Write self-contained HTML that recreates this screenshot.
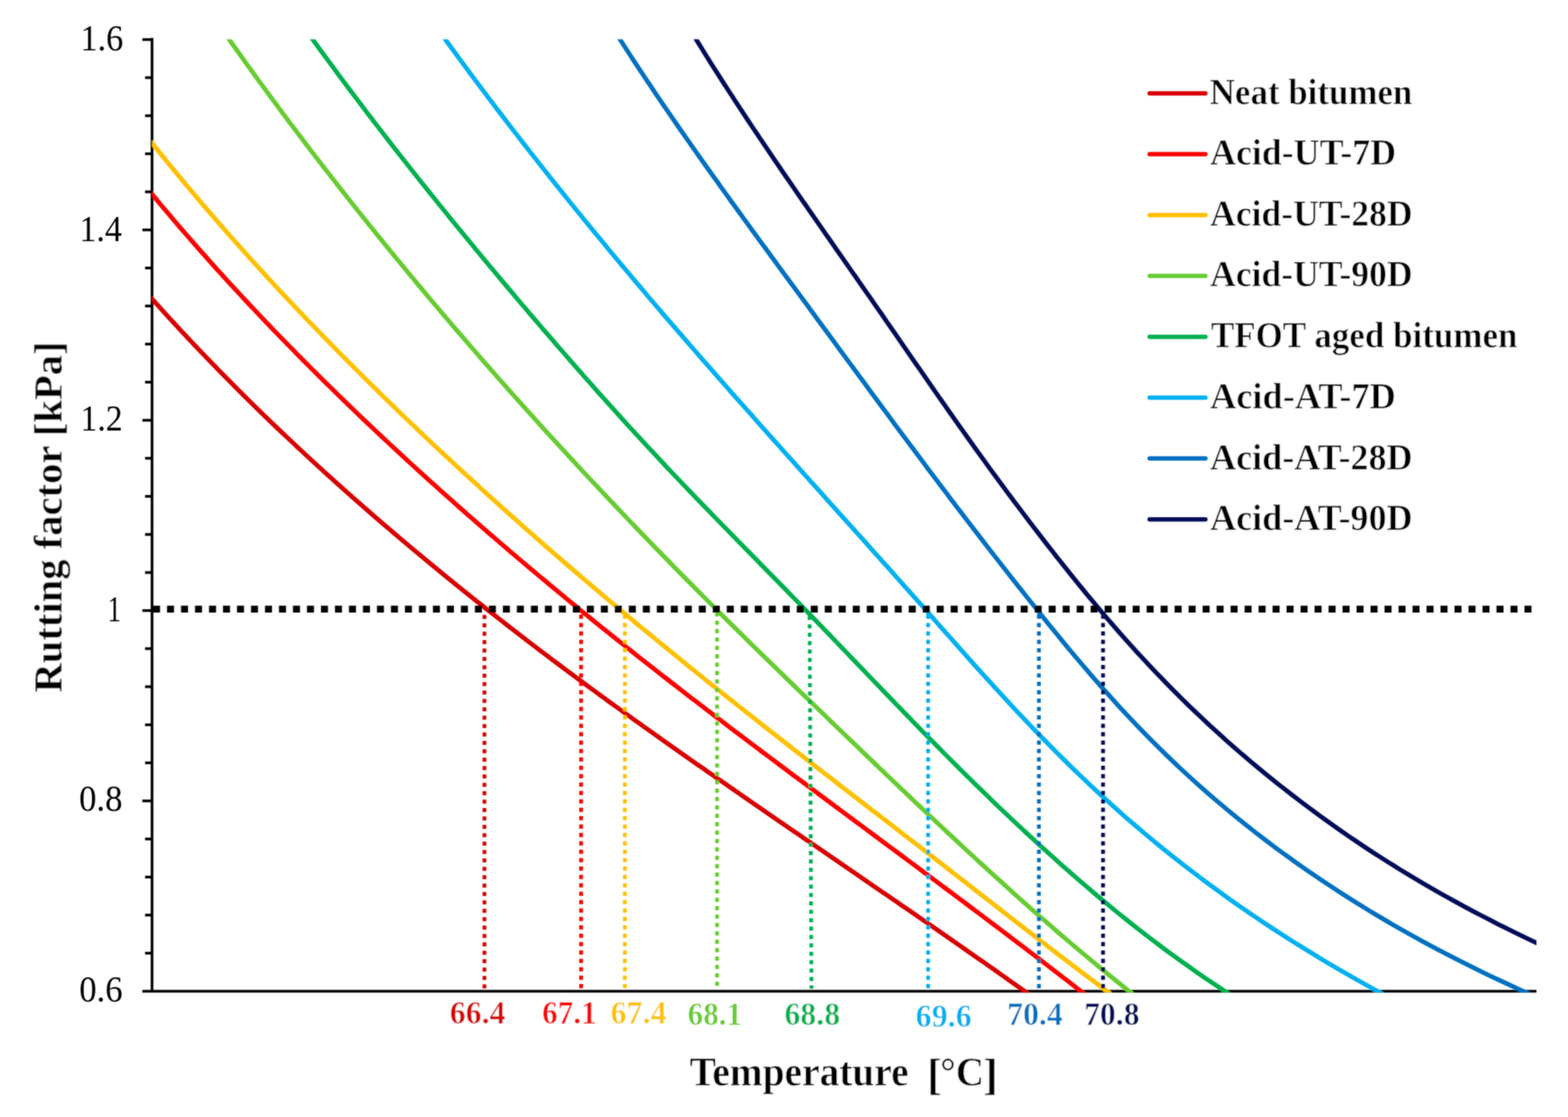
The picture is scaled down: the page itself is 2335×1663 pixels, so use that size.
<!DOCTYPE html><html><head><meta charset="utf-8"><style>html,body{margin:0;padding:0;background:#fff;}svg{display:block;}text{font-family:"Liberation Serif","Times New Roman",serif;}text[font-weight="bold"]{stroke:#fff;stroke-width:0.6px;}</style></head><body>
<svg width="2335" height="1663" viewBox="0 0 2335 1663">
<rect width="2335" height="1663" fill="#fff"/>
<defs><clipPath id="pc"><rect x="226.3" y="58.4" width="2061.7" height="1419.3999999999999"/></clipPath><filter id="soft" x="0" y="0" width="2335" height="1663" filterUnits="userSpaceOnUse"><feConvolveMatrix order="3" kernelMatrix="1 2 1 2 4 2 1 2 1" divisor="16" edgeMode="duplicate"/></filter></defs>
<g filter="url(#soft)">
<g stroke="#000" stroke-width="4" fill="none">
<line x1="226.4" y1="56.4" x2="226.4" y2="1475.8"/>
<line x1="212" y1="1475.8" x2="2288.0" y2="1475.8"/>
<line x1="212" y1="58.9" x2="226.4" y2="58.9"/>
<line x1="216" y1="115.6" x2="226.4" y2="115.6"/>
<line x1="216" y1="172.3" x2="226.4" y2="172.3"/>
<line x1="216" y1="228.9" x2="226.4" y2="228.9"/>
<line x1="216" y1="285.6" x2="226.4" y2="285.6"/>
<line x1="212" y1="342.3" x2="226.4" y2="342.3"/>
<line x1="216" y1="399.0" x2="226.4" y2="399.0"/>
<line x1="216" y1="455.6" x2="226.4" y2="455.6"/>
<line x1="216" y1="512.3" x2="226.4" y2="512.3"/>
<line x1="216" y1="569.0" x2="226.4" y2="569.0"/>
<line x1="212" y1="625.7" x2="226.4" y2="625.7"/>
<line x1="216" y1="682.3" x2="226.4" y2="682.3"/>
<line x1="216" y1="739.0" x2="226.4" y2="739.0"/>
<line x1="216" y1="795.7" x2="226.4" y2="795.7"/>
<line x1="216" y1="852.4" x2="226.4" y2="852.4"/>
<line x1="212" y1="909.0" x2="226.4" y2="909.0"/>
<line x1="216" y1="965.7" x2="226.4" y2="965.7"/>
<line x1="216" y1="1022.4" x2="226.4" y2="1022.4"/>
<line x1="216" y1="1079.1" x2="226.4" y2="1079.1"/>
<line x1="216" y1="1135.7" x2="226.4" y2="1135.7"/>
<line x1="212" y1="1192.4" x2="226.4" y2="1192.4"/>
<line x1="216" y1="1249.1" x2="226.4" y2="1249.1"/>
<line x1="216" y1="1305.8" x2="226.4" y2="1305.8"/>
<line x1="216" y1="1362.4" x2="226.4" y2="1362.4"/>
<line x1="216" y1="1419.1" x2="226.4" y2="1419.1"/>
</g>
<text x="183.6" y="74.9" font-size="54.8" text-anchor="end" fill="#000" textLength="63.9" lengthAdjust="spacingAndGlyphs">1.6</text>
<text x="181.5" y="359.2" font-size="54.8" text-anchor="end" fill="#000" textLength="63.3" lengthAdjust="spacingAndGlyphs">1.4</text>
<text x="182.6" y="641.1" font-size="54.8" text-anchor="end" fill="#000" textLength="62.8" lengthAdjust="spacingAndGlyphs">1.2</text>
<text x="180.3" y="924.9" font-size="54.8" text-anchor="end" fill="#000" textLength="20.0" lengthAdjust="spacingAndGlyphs">1</text>
<text x="182.4" y="1206.5" font-size="54.8" text-anchor="end" fill="#000" textLength="64.7" lengthAdjust="spacingAndGlyphs">0.8</text>
<text x="182.6" y="1490.5" font-size="54.8" text-anchor="end" fill="#000" textLength="64.6" lengthAdjust="spacingAndGlyphs">0.6</text>
<g clip-path="url(#pc)" fill="none" stroke-width="6.7" stroke-linejoin="round">
<path d="M224.3 442.5 L228.5 447.2 L232.7 452.0 L237.0 456.7 L241.3 461.4 L245.6 466.2 L249.9 470.9 L254.2 475.7 L258.6 480.4 L262.9 485.1 L267.3 489.9 L271.7 494.6 L276.1 499.3 L280.6 504.1 L285.0 508.8 L289.5 513.6 L294.0 518.3 L298.5 523.0 L303.1 527.8 L307.6 532.5 L312.2 537.2 L316.8 542.0 L321.4 546.7 L326.0 551.5 L330.6 556.2 L335.3 560.9 L340.0 565.7 L344.7 570.4 L349.4 575.1 L354.1 579.9 L358.9 584.6 L363.6 589.4 L368.4 594.1 L373.2 598.8 L378.0 603.6 L382.9 608.3 L387.7 613.0 L392.6 617.8 L397.5 622.5 L402.4 627.3 L407.3 632.0 L412.3 636.7 L417.3 641.5 L422.3 646.2 L427.3 650.9 L432.3 655.7 L437.3 660.4 L442.4 665.2 L447.5 669.9 L452.6 674.6 L457.7 679.4 L462.8 684.1 L467.9 688.8 L473.1 693.6 L478.3 698.3 L483.5 703.1 L488.7 707.8 L494.0 712.5 L499.2 717.3 L504.5 722.0 L509.8 726.7 L515.1 731.5 L520.5 736.2 L525.8 741.0 L531.2 745.7 L536.6 750.4 L542.0 755.2 L547.4 759.9 L552.8 764.6 L558.3 769.4 L563.8 774.1 L569.3 778.9 L574.8 783.6 L580.3 788.3 L585.9 793.1 L591.4 797.8 L597.0 802.5 L602.6 807.3 L608.3 812.0 L613.9 816.8 L619.6 821.5 L625.3 826.2 L631.0 831.0 L636.7 835.7 L642.4 840.4 L648.2 845.2 L653.9 849.9 L659.7 854.7 L665.5 859.4 L671.4 864.1 L677.2 868.9 L683.1 873.6 L689.0 878.3 L694.9 883.1 L700.8 887.8 L706.7 892.6 L712.7 897.3 L718.7 902.0 L724.6 906.8 L730.7 911.5 L736.7 916.2 L742.7 921.0 L748.8 925.7 L754.9 930.5 L761.0 935.2 L767.1 939.9 L773.3 944.7 L779.4 949.4 L785.6 954.1 L791.8 958.9 L798.0 963.6 L804.2 968.4 L810.5 973.1 L816.8 977.8 L823.0 982.6 L829.3 987.3 L835.7 992.0 L842.0 996.8 L848.4 1001.5 L854.8 1006.3 L861.2 1011.0 L867.6 1015.7 L874.0 1020.5 L880.5 1025.2 L886.9 1029.9 L893.4 1034.7 L899.9 1039.4 L906.4 1044.2 L913.0 1048.9 L919.5 1053.6 L926.1 1058.4 L932.6 1063.1 L939.2 1067.8 L945.8 1072.6 L952.5 1077.3 L959.1 1082.1 L965.7 1086.8 L972.4 1091.5 L979.1 1096.3 L985.7 1101.0 L992.4 1105.7 L999.1 1110.5 L1005.9 1115.2 L1012.6 1120.0 L1019.3 1124.7 L1026.1 1129.4 L1032.8 1134.2 L1039.6 1138.9 L1046.4 1143.6 L1053.2 1148.4 L1060.0 1153.1 L1066.8 1157.9 L1073.6 1162.6 L1080.4 1167.3 L1087.2 1172.1 L1094.0 1176.8 L1100.9 1181.5 L1107.7 1186.3 L1114.6 1191.0 L1121.4 1195.8 L1128.3 1200.5 L1135.2 1205.2 L1142.0 1210.0 L1148.9 1214.7 L1155.8 1219.4 L1162.7 1224.2 L1169.6 1228.9 L1176.5 1233.7 L1183.4 1238.4 L1190.3 1243.1 L1197.2 1247.9 L1204.1 1252.6 L1211.0 1257.3 L1217.9 1262.1 L1224.8 1266.8 L1231.7 1271.6 L1238.6 1276.3 L1245.5 1281.0 L1252.4 1285.8 L1259.3 1290.5 L1266.2 1295.2 L1273.1 1300.0 L1280.0 1304.7 L1286.9 1309.5 L1293.8 1314.2 L1300.7 1318.9 L1307.6 1323.7 L1314.5 1328.4 L1321.4 1333.1 L1328.3 1337.9 L1335.2 1342.6 L1342.1 1347.4 L1348.9 1352.1 L1355.8 1356.8 L1362.7 1361.6 L1369.5 1366.3 L1376.4 1371.0 L1383.2 1375.8 L1390.1 1380.5 L1396.9 1385.3 L1403.7 1390.0 L1410.5 1394.7 L1417.4 1399.5 L1424.2 1404.2 L1431.0 1408.9 L1437.7 1413.7 L1444.5 1418.4 L1451.3 1423.2 L1458.0 1427.9 L1464.8 1432.6 L1471.5 1437.4 L1478.3 1442.1 L1485.0 1446.8 L1491.7 1451.6 L1498.4 1456.3 L1505.0 1461.1 L1511.7 1465.8 L1518.4 1470.5 L1525.0 1475.3 L1531.7 1480.0" stroke="#D80000"/>
<path d="M224.6 287.0 L229.2 292.4 L233.7 297.9 L238.2 303.3 L242.8 308.8 L247.4 314.2 L252.0 319.7 L256.6 325.1 L261.3 330.6 L265.9 336.0 L270.6 341.5 L275.3 346.9 L280.1 352.4 L284.8 357.8 L289.6 363.3 L294.4 368.7 L299.2 374.2 L304.0 379.6 L308.9 385.1 L313.7 390.5 L318.6 395.9 L323.5 401.4 L328.5 406.8 L333.4 412.3 L338.4 417.7 L343.4 423.2 L348.4 428.6 L353.4 434.1 L358.5 439.5 L363.5 445.0 L368.6 450.4 L373.7 455.9 L378.9 461.3 L384.0 466.8 L389.2 472.2 L394.4 477.7 L399.6 483.1 L404.8 488.6 L410.0 494.0 L415.3 499.5 L420.6 504.9 L425.9 510.3 L431.2 515.8 L436.6 521.2 L441.9 526.7 L447.3 532.1 L452.7 537.6 L458.1 543.0 L463.6 548.5 L469.0 553.9 L474.5 559.4 L480.0 564.8 L485.5 570.3 L491.1 575.7 L496.6 581.2 L502.2 586.6 L507.8 592.1 L513.4 597.5 L519.0 603.0 L524.7 608.4 L530.3 613.8 L536.0 619.3 L541.7 624.7 L547.5 630.2 L553.2 635.6 L559.0 641.1 L564.8 646.5 L570.6 652.0 L576.4 657.4 L582.2 662.9 L588.1 668.3 L594.0 673.8 L599.9 679.2 L605.8 684.7 L611.7 690.1 L617.7 695.6 L623.6 701.0 L629.6 706.5 L635.6 711.9 L641.6 717.4 L647.7 722.8 L653.8 728.2 L659.8 733.7 L665.9 739.1 L672.1 744.6 L678.2 750.0 L684.3 755.5 L690.5 760.9 L696.7 766.4 L702.9 771.8 L709.1 777.3 L715.4 782.7 L721.7 788.2 L727.9 793.6 L734.2 799.1 L740.6 804.5 L746.9 810.0 L753.3 815.4 L759.6 820.9 L766.0 826.3 L772.4 831.7 L778.9 837.2 L785.3 842.6 L791.8 848.1 L798.2 853.5 L804.7 859.0 L811.3 864.4 L817.8 869.9 L824.4 875.3 L830.9 880.8 L837.5 886.2 L844.1 891.7 L850.7 897.1 L857.4 902.6 L864.0 908.0 L870.7 913.5 L877.4 918.9 L884.1 924.4 L890.9 929.8 L897.6 935.3 L904.4 940.7 L911.2 946.1 L918.0 951.6 L924.8 957.0 L931.6 962.5 L938.5 967.9 L945.3 973.4 L952.2 978.8 L959.1 984.3 L966.0 989.7 L973.0 995.2 L979.9 1000.6 L986.9 1006.1 L993.9 1011.5 L1000.9 1017.0 L1007.9 1022.4 L1015.0 1027.9 L1022.0 1033.3 L1029.1 1038.8 L1036.2 1044.2 L1043.3 1049.6 L1050.4 1055.1 L1057.5 1060.5 L1064.6 1066.0 L1071.8 1071.4 L1079.0 1076.9 L1086.1 1082.3 L1093.3 1087.8 L1100.5 1093.2 L1107.7 1098.7 L1114.9 1104.1 L1122.2 1109.6 L1129.4 1115.0 L1136.6 1120.5 L1143.9 1125.9 L1151.2 1131.4 L1158.4 1136.8 L1165.7 1142.3 L1173.0 1147.7 L1180.3 1153.2 L1187.6 1158.6 L1194.9 1164.0 L1202.2 1169.5 L1209.5 1174.9 L1216.8 1180.4 L1224.1 1185.8 L1231.4 1191.3 L1238.8 1196.7 L1246.1 1202.2 L1253.4 1207.6 L1260.8 1213.1 L1268.1 1218.5 L1275.4 1224.0 L1282.8 1229.4 L1290.1 1234.9 L1297.5 1240.3 L1304.8 1245.8 L1312.1 1251.2 L1319.5 1256.7 L1326.8 1262.1 L1334.2 1267.5 L1341.5 1273.0 L1348.8 1278.4 L1356.1 1283.9 L1363.5 1289.3 L1370.8 1294.8 L1378.1 1300.2 L1385.4 1305.7 L1392.7 1311.1 L1400.0 1316.6 L1407.3 1322.0 L1414.6 1327.5 L1421.9 1332.9 L1429.2 1338.4 L1436.4 1343.8 L1443.7 1349.3 L1451.0 1354.7 L1458.2 1360.2 L1465.5 1365.6 L1472.7 1371.1 L1479.9 1376.5 L1487.1 1381.9 L1494.3 1387.4 L1501.5 1392.8 L1508.7 1398.3 L1515.9 1403.7 L1523.1 1409.2 L1530.2 1414.6 L1537.4 1420.1 L1544.5 1425.5 L1551.6 1431.0 L1558.7 1436.4 L1565.8 1441.9 L1572.9 1447.3 L1580.0 1452.8 L1587.0 1458.2 L1594.1 1463.7 L1601.1 1469.1 L1608.1 1474.6 L1615.1 1480.0" stroke="#FF0000"/>
<path d="M224.4 210.5 L229.0 216.3 L233.7 222.1 L238.3 227.9 L243.0 233.7 L247.7 239.5 L252.5 245.3 L257.2 251.1 L262.0 256.9 L266.8 262.7 L271.6 268.5 L276.5 274.3 L281.3 280.1 L286.2 285.9 L291.1 291.7 L296.0 297.5 L300.9 303.2 L305.9 309.0 L310.9 314.8 L315.9 320.6 L320.9 326.4 L326.0 332.2 L331.0 338.0 L336.1 343.8 L341.2 349.6 L346.3 355.4 L351.5 361.2 L356.7 367.0 L361.8 372.8 L367.1 378.6 L372.3 384.4 L377.5 390.2 L382.8 396.0 L388.1 401.8 L393.4 407.6 L398.7 413.4 L404.1 419.2 L409.4 425.0 L414.8 430.8 L420.2 436.6 L425.7 442.4 L431.1 448.2 L436.6 454.0 L442.1 459.8 L447.6 465.6 L453.1 471.4 L458.6 477.2 L464.2 482.9 L469.8 488.7 L475.4 494.5 L481.0 500.3 L486.7 506.1 L492.3 511.9 L498.0 517.7 L503.7 523.5 L509.5 529.3 L515.2 535.1 L521.0 540.9 L526.7 546.7 L532.5 552.5 L538.4 558.3 L544.2 564.1 L550.1 569.9 L555.9 575.7 L561.8 581.5 L567.7 587.3 L573.7 593.1 L579.6 598.9 L585.6 604.7 L591.6 610.5 L597.6 616.3 L603.6 622.1 L609.7 627.9 L615.7 633.7 L621.8 639.5 L627.9 645.3 L634.0 651.1 L640.2 656.9 L646.3 662.7 L652.5 668.4 L658.7 674.2 L664.9 680.0 L671.2 685.8 L677.4 691.6 L683.7 697.4 L690.0 703.2 L696.3 709.0 L702.6 714.8 L709.0 720.6 L715.3 726.4 L721.7 732.2 L728.1 738.0 L734.5 743.8 L741.0 749.6 L747.4 755.4 L753.9 761.2 L760.4 767.0 L766.9 772.8 L773.4 778.6 L779.9 784.4 L786.5 790.2 L793.1 796.0 L799.7 801.8 L806.3 807.6 L812.9 813.4 L819.6 819.2 L826.2 825.0 L832.9 830.8 L839.6 836.6 L846.3 842.4 L853.1 848.1 L859.8 853.9 L866.6 859.7 L873.4 865.5 L880.2 871.3 L887.0 877.1 L893.9 882.9 L900.7 888.7 L907.6 894.5 L914.5 900.3 L921.4 906.1 L928.3 911.9 L935.3 917.7 L942.2 923.5 L949.2 929.3 L956.2 935.1 L963.2 940.9 L970.3 946.7 L977.3 952.5 L984.4 958.3 L991.5 964.1 L998.6 969.9 L1005.7 975.7 L1012.8 981.5 L1020.0 987.3 L1027.1 993.1 L1034.3 998.9 L1041.5 1004.7 L1048.7 1010.5 L1055.9 1016.3 L1063.2 1022.1 L1070.5 1027.8 L1077.7 1033.6 L1085.0 1039.4 L1092.3 1045.2 L1099.6 1051.0 L1107.0 1056.8 L1114.3 1062.6 L1121.7 1068.4 L1129.0 1074.2 L1136.4 1080.0 L1143.8 1085.8 L1151.2 1091.6 L1158.6 1097.4 L1166.0 1103.2 L1173.4 1109.0 L1180.9 1114.8 L1188.3 1120.6 L1195.7 1126.4 L1203.2 1132.2 L1210.7 1138.0 L1218.1 1143.8 L1225.6 1149.6 L1233.1 1155.4 L1240.6 1161.2 L1248.1 1167.0 L1255.5 1172.8 L1263.0 1178.6 L1270.5 1184.4 L1278.0 1190.2 L1285.5 1196.0 L1293.0 1201.8 L1300.5 1207.6 L1308.1 1213.3 L1315.6 1219.1 L1323.1 1224.9 L1330.6 1230.7 L1338.1 1236.5 L1345.6 1242.3 L1353.1 1248.1 L1360.6 1253.9 L1368.1 1259.7 L1375.6 1265.5 L1383.1 1271.3 L1390.5 1277.1 L1398.0 1282.9 L1405.5 1288.7 L1413.0 1294.5 L1420.4 1300.3 L1427.9 1306.1 L1435.4 1311.9 L1442.8 1317.7 L1450.3 1323.5 L1457.7 1329.3 L1465.1 1335.1 L1472.6 1340.9 L1480.0 1346.7 L1487.5 1352.5 L1494.9 1358.3 L1502.4 1364.1 L1509.8 1369.9 L1517.3 1375.7 L1524.8 1381.5 L1532.3 1387.3 L1539.8 1393.0 L1547.3 1398.8 L1554.8 1404.6 L1562.3 1410.4 L1569.9 1416.2 L1577.4 1422.0 L1585.0 1427.8 L1592.6 1433.6 L1600.2 1439.4 L1607.8 1445.2 L1615.5 1451.0 L1623.2 1456.8 L1630.9 1462.6 L1638.6 1468.4 L1646.3 1474.2 L1654.1 1480.0" stroke="#FFC000"/>
<path d="M335.4 50.4 L340.0 56.9 L344.6 63.5 L349.3 70.0 L353.9 76.5 L358.6 83.0 L363.3 89.6 L367.9 96.1 L372.7 102.6 L377.4 109.2 L382.1 115.7 L386.9 122.2 L391.7 128.7 L396.4 135.3 L401.2 141.8 L406.0 148.3 L410.9 154.8 L415.7 161.4 L420.6 167.9 L425.5 174.4 L430.3 181.0 L435.2 187.5 L440.2 194.0 L445.1 200.5 L450.0 207.1 L455.0 213.6 L460.0 220.1 L465.0 226.7 L470.0 233.2 L475.0 239.7 L480.0 246.2 L485.1 252.8 L490.2 259.3 L495.2 265.8 L500.3 272.3 L505.4 278.9 L510.6 285.4 L515.7 291.9 L520.9 298.5 L526.0 305.0 L531.2 311.5 L536.4 318.0 L541.6 324.6 L546.9 331.1 L552.1 337.6 L557.4 344.2 L562.6 350.7 L567.9 357.2 L573.2 363.7 L578.5 370.3 L583.9 376.8 L589.2 383.3 L594.6 389.8 L600.0 396.4 L605.3 402.9 L610.8 409.4 L616.2 416.0 L621.6 422.5 L627.1 429.0 L632.5 435.5 L638.0 442.1 L643.5 448.6 L649.0 455.1 L654.5 461.7 L660.1 468.2 L665.6 474.7 L671.2 481.2 L676.8 487.8 L682.4 494.3 L688.0 500.8 L693.6 507.3 L699.3 513.9 L704.9 520.4 L710.6 526.9 L716.3 533.5 L722.0 540.0 L727.7 546.5 L733.4 553.0 L739.2 559.6 L744.9 566.1 L750.7 572.6 L756.5 579.2 L762.3 585.7 L768.1 592.2 L774.0 598.7 L779.8 605.3 L785.7 611.8 L791.6 618.3 L797.5 624.9 L803.4 631.4 L809.3 637.9 L815.2 644.4 L821.2 651.0 L827.2 657.5 L833.1 664.0 L839.1 670.5 L845.1 677.1 L851.2 683.6 L857.2 690.1 L863.3 696.7 L869.3 703.2 L875.4 709.7 L881.5 716.2 L887.7 722.8 L893.8 729.3 L899.9 735.8 L906.1 742.4 L912.3 748.9 L918.5 755.4 L924.7 761.9 L930.9 768.5 L937.1 775.0 L943.4 781.5 L949.6 788.0 L955.9 794.6 L962.2 801.1 L968.5 807.6 L974.8 814.2 L981.2 820.7 L987.5 827.2 L993.9 833.7 L1000.3 840.3 L1006.7 846.8 L1013.1 853.3 L1019.5 859.9 L1026.0 866.4 L1032.4 872.9 L1038.9 879.4 L1045.4 886.0 L1051.9 892.5 L1058.4 899.0 L1064.9 905.5 L1071.5 912.1 L1078.1 918.6 L1084.6 925.1 L1091.2 931.7 L1097.8 938.2 L1104.4 944.7 L1111.1 951.2 L1117.7 957.8 L1124.4 964.3 L1131.0 970.8 L1137.7 977.4 L1144.4 983.9 L1151.1 990.4 L1157.8 996.9 L1164.5 1003.5 L1171.2 1010.0 L1177.9 1016.5 L1184.7 1023.1 L1191.4 1029.6 L1198.1 1036.1 L1204.9 1042.6 L1211.7 1049.2 L1218.4 1055.7 L1225.2 1062.2 L1232.0 1068.7 L1238.7 1075.3 L1245.5 1081.8 L1252.3 1088.3 L1259.1 1094.9 L1265.9 1101.4 L1272.7 1107.9 L1279.5 1114.4 L1286.3 1121.0 L1293.1 1127.5 L1299.9 1134.0 L1306.7 1140.6 L1313.5 1147.1 L1320.3 1153.6 L1327.2 1160.1 L1334.0 1166.7 L1340.9 1173.2 L1347.7 1179.7 L1354.6 1186.2 L1361.5 1192.8 L1368.4 1199.3 L1375.3 1205.8 L1382.2 1212.4 L1389.1 1218.9 L1396.1 1225.4 L1403.0 1231.9 L1410.0 1238.5 L1417.0 1245.0 L1424.0 1251.5 L1431.0 1258.1 L1438.1 1264.6 L1445.1 1271.1 L1452.2 1277.6 L1459.3 1284.2 L1466.4 1290.7 L1473.5 1297.2 L1480.7 1303.7 L1487.9 1310.3 L1495.1 1316.8 L1502.3 1323.3 L1509.6 1329.9 L1516.9 1336.4 L1524.2 1342.9 L1531.6 1349.4 L1538.9 1356.0 L1546.3 1362.5 L1553.8 1369.0 L1561.3 1375.6 L1568.8 1382.1 L1576.3 1388.6 L1583.9 1395.1 L1591.6 1401.7 L1599.3 1408.2 L1607.0 1414.7 L1614.7 1421.2 L1622.6 1427.8 L1630.4 1434.3 L1638.3 1440.8 L1646.3 1447.4 L1654.3 1453.9 L1662.3 1460.4 L1670.5 1466.9 L1678.6 1473.5 L1686.8 1480.0" stroke="#66CC33"/>
<path d="M459.7 50.4 L464.4 56.9 L469.1 63.5 L473.9 70.0 L478.6 76.5 L483.4 83.0 L488.2 89.6 L493.0 96.1 L497.8 102.6 L502.6 109.2 L507.5 115.7 L512.4 122.2 L517.2 128.7 L522.1 135.3 L527.0 141.8 L532.0 148.3 L536.9 154.8 L541.9 161.4 L546.8 167.9 L551.8 174.4 L556.8 181.0 L561.9 187.5 L566.9 194.0 L571.9 200.5 L577.0 207.1 L582.1 213.6 L587.1 220.1 L592.3 226.7 L597.4 233.2 L602.5 239.7 L607.6 246.2 L612.8 252.8 L618.0 259.3 L623.1 265.8 L628.3 272.3 L633.6 278.9 L638.8 285.4 L644.0 291.9 L649.3 298.5 L654.5 305.0 L659.8 311.5 L665.1 318.0 L670.4 324.6 L675.7 331.1 L681.0 337.6 L686.4 344.2 L691.7 350.7 L697.1 357.2 L702.5 363.7 L707.9 370.3 L713.3 376.8 L718.7 383.3 L724.1 389.8 L729.5 396.4 L735.0 402.9 L740.4 409.4 L745.9 416.0 L751.4 422.5 L756.9 429.0 L762.4 435.5 L767.9 442.1 L773.4 448.6 L779.0 455.1 L784.5 461.7 L790.1 468.2 L795.7 474.7 L801.2 481.2 L806.8 487.8 L812.4 494.3 L818.1 500.8 L823.7 507.3 L829.3 513.9 L835.0 520.4 L840.7 526.9 L846.4 533.5 L852.1 540.0 L857.8 546.5 L863.5 553.0 L869.3 559.6 L875.0 566.1 L880.8 572.6 L886.6 579.2 L892.4 585.7 L898.3 592.2 L904.1 598.7 L910.0 605.3 L915.9 611.8 L921.8 618.3 L927.7 624.9 L933.6 631.4 L939.6 637.9 L945.6 644.4 L951.6 651.0 L957.6 657.5 L963.6 664.0 L969.7 670.5 L975.8 677.1 L981.9 683.6 L988.0 690.1 L994.1 696.7 L1000.3 703.2 L1006.5 709.7 L1012.7 716.2 L1018.9 722.8 L1025.2 729.3 L1031.4 735.8 L1037.7 742.4 L1044.0 748.9 L1050.3 755.4 L1056.7 761.9 L1063.0 768.5 L1069.4 775.0 L1075.7 781.5 L1082.1 788.0 L1088.5 794.6 L1094.9 801.1 L1101.2 807.6 L1107.6 814.2 L1114.0 820.7 L1120.4 827.2 L1126.8 833.7 L1133.2 840.3 L1139.6 846.8 L1146.0 853.3 L1152.4 859.9 L1158.8 866.4 L1165.2 872.9 L1171.6 879.4 L1178.0 886.0 L1184.3 892.5 L1190.7 899.0 L1197.0 905.5 L1203.4 912.1 L1209.7 918.6 L1216.0 925.1 L1222.3 931.7 L1228.6 938.2 L1234.9 944.7 L1241.1 951.2 L1247.4 957.8 L1253.7 964.3 L1259.9 970.8 L1266.2 977.4 L1272.5 983.9 L1278.7 990.4 L1285.0 996.9 L1291.3 1003.5 L1297.5 1010.0 L1303.8 1016.5 L1310.1 1023.1 L1316.4 1029.6 L1322.7 1036.1 L1329.0 1042.6 L1335.3 1049.2 L1341.6 1055.7 L1347.9 1062.2 L1354.2 1068.7 L1360.6 1075.3 L1367.0 1081.8 L1373.3 1088.3 L1379.7 1094.9 L1386.2 1101.4 L1392.6 1107.9 L1399.1 1114.4 L1405.5 1121.0 L1412.0 1127.5 L1418.5 1134.0 L1425.1 1140.6 L1431.7 1147.1 L1438.2 1153.6 L1444.9 1160.1 L1451.5 1166.7 L1458.2 1173.2 L1464.9 1179.7 L1471.6 1186.2 L1478.4 1192.8 L1485.2 1199.3 L1492.0 1205.8 L1498.9 1212.4 L1505.8 1218.9 L1512.7 1225.4 L1519.7 1231.9 L1526.7 1238.5 L1533.8 1245.0 L1540.9 1251.5 L1548.0 1258.1 L1555.2 1264.6 L1562.4 1271.1 L1569.7 1277.6 L1577.0 1284.2 L1584.3 1290.7 L1591.8 1297.2 L1599.2 1303.7 L1606.7 1310.3 L1614.3 1316.8 L1621.9 1323.3 L1629.6 1329.9 L1637.3 1336.4 L1645.2 1342.9 L1653.0 1349.4 L1661.0 1356.0 L1669.0 1362.5 L1677.2 1369.0 L1685.4 1375.6 L1693.7 1382.1 L1702.0 1388.6 L1710.5 1395.1 L1719.1 1401.7 L1727.8 1408.2 L1736.5 1414.7 L1745.4 1421.2 L1754.4 1427.8 L1763.5 1434.3 L1772.7 1440.8 L1782.1 1447.4 L1791.5 1453.9 L1801.1 1460.4 L1810.9 1466.9 L1820.7 1473.5 L1830.7 1480.0" stroke="#00B050"/>
<path d="M657.2 50.4 L661.9 56.9 L666.6 63.5 L671.3 70.0 L676.1 76.5 L680.9 83.0 L685.7 89.6 L690.5 96.1 L695.3 102.6 L700.2 109.2 L705.0 115.7 L709.9 122.2 L714.8 128.7 L719.7 135.3 L724.6 141.8 L729.5 148.3 L734.5 154.8 L739.4 161.4 L744.4 167.9 L749.4 174.4 L754.4 181.0 L759.4 187.5 L764.4 194.0 L769.5 200.5 L774.5 207.1 L779.6 213.6 L784.7 220.1 L789.8 226.7 L794.9 233.2 L800.1 239.7 L805.2 246.2 L810.4 252.8 L815.5 259.3 L820.7 265.8 L825.9 272.3 L831.1 278.9 L836.4 285.4 L841.6 291.9 L846.9 298.5 L852.1 305.0 L857.4 311.5 L862.7 318.0 L868.0 324.6 L873.4 331.1 L878.7 337.6 L884.0 344.2 L889.4 350.7 L894.8 357.2 L900.2 363.7 L905.6 370.3 L911.0 376.8 L916.4 383.3 L921.9 389.8 L927.3 396.4 L932.8 402.9 L938.3 409.4 L943.7 416.0 L949.3 422.5 L954.8 429.0 L960.3 435.5 L965.8 442.1 L971.4 448.6 L977.0 455.1 L982.5 461.7 L988.1 468.2 L993.7 474.7 L999.3 481.2 L1005.0 487.8 L1010.6 494.3 L1016.3 500.8 L1021.9 507.3 L1027.6 513.9 L1033.3 520.4 L1039.0 526.9 L1044.6 533.5 L1050.4 540.0 L1056.1 546.5 L1061.8 553.0 L1067.5 559.6 L1073.3 566.1 L1079.0 572.6 L1084.8 579.2 L1090.5 585.7 L1096.3 592.2 L1102.1 598.7 L1107.9 605.3 L1113.7 611.8 L1119.5 618.3 L1125.3 624.9 L1131.1 631.4 L1136.9 637.9 L1142.7 644.4 L1148.5 651.0 L1154.3 657.5 L1160.2 664.0 L1166.0 670.5 L1171.8 677.1 L1177.7 683.6 L1183.5 690.1 L1189.4 696.7 L1195.2 703.2 L1201.1 709.7 L1206.9 716.2 L1212.8 722.8 L1218.6 729.3 L1224.5 735.8 L1230.4 742.4 L1236.2 748.9 L1242.1 755.4 L1247.9 761.9 L1253.8 768.5 L1259.6 775.0 L1265.5 781.5 L1271.4 788.0 L1277.2 794.6 L1283.1 801.1 L1288.9 807.6 L1294.8 814.2 L1300.6 820.7 L1306.5 827.2 L1312.3 833.7 L1318.1 840.3 L1324.0 846.8 L1329.8 853.3 L1335.6 859.9 L1341.5 866.4 L1347.3 872.9 L1353.1 879.4 L1358.9 886.0 L1364.7 892.5 L1370.5 899.0 L1376.3 905.5 L1382.1 912.1 L1387.9 918.6 L1393.6 925.1 L1399.4 931.7 L1405.2 938.2 L1411.0 944.7 L1416.8 951.2 L1422.5 957.8 L1428.3 964.3 L1434.1 970.8 L1440.0 977.4 L1445.8 983.9 L1451.6 990.4 L1457.5 996.9 L1463.4 1003.5 L1469.3 1010.0 L1475.2 1016.5 L1481.1 1023.1 L1487.1 1029.6 L1493.1 1036.1 L1499.1 1042.6 L1505.2 1049.2 L1511.2 1055.7 L1517.4 1062.2 L1523.5 1068.7 L1529.7 1075.3 L1535.9 1081.8 L1542.2 1088.3 L1548.5 1094.9 L1554.9 1101.4 L1561.3 1107.9 L1567.7 1114.4 L1574.2 1121.0 L1580.8 1127.5 L1587.4 1134.0 L1594.0 1140.6 L1600.7 1147.1 L1607.5 1153.6 L1614.4 1160.1 L1621.2 1166.7 L1628.2 1173.2 L1635.2 1179.7 L1642.3 1186.2 L1649.5 1192.8 L1656.7 1199.3 L1664.0 1205.8 L1671.4 1212.4 L1678.8 1218.9 L1686.4 1225.4 L1694.0 1231.9 L1701.7 1238.5 L1709.4 1245.0 L1717.3 1251.5 L1725.2 1258.1 L1733.3 1264.6 L1741.4 1271.1 L1749.6 1277.6 L1757.9 1284.2 L1766.3 1290.7 L1774.8 1297.2 L1783.4 1303.7 L1792.1 1310.3 L1800.9 1316.8 L1809.8 1323.3 L1818.8 1329.9 L1827.9 1336.4 L1837.1 1342.9 L1846.4 1349.4 L1855.9 1356.0 L1865.4 1362.5 L1875.1 1369.0 L1884.9 1375.6 L1894.8 1382.1 L1904.9 1388.6 L1915.0 1395.1 L1925.3 1401.7 L1935.7 1408.2 L1946.2 1414.7 L1956.9 1421.2 L1967.7 1427.8 L1978.6 1434.3 L1989.7 1440.8 L2000.9 1447.4 L2012.3 1453.9 L2023.7 1460.4 L2035.4 1466.9 L2047.1 1473.5 L2059.0 1480.0" stroke="#00B0F0"/>
<path d="M918.0 50.4 L922.2 56.9 L926.4 63.5 L930.6 70.0 L934.8 76.5 L939.0 83.0 L943.3 89.6 L947.6 96.1 L951.9 102.6 L956.2 109.2 L960.5 115.7 L964.9 122.2 L969.3 128.7 L973.7 135.3 L978.1 141.8 L982.5 148.3 L986.9 154.8 L991.4 161.4 L995.9 167.9 L1000.4 174.4 L1004.9 181.0 L1009.4 187.5 L1013.9 194.0 L1018.5 200.5 L1023.0 207.1 L1027.6 213.6 L1032.2 220.1 L1036.8 226.7 L1041.4 233.2 L1046.0 239.7 L1050.6 246.2 L1055.3 252.8 L1059.9 259.3 L1064.6 265.8 L1069.3 272.3 L1073.9 278.9 L1078.6 285.4 L1083.3 291.9 L1088.0 298.5 L1092.8 305.0 L1097.5 311.5 L1102.2 318.0 L1106.9 324.6 L1111.7 331.1 L1116.4 337.6 L1121.2 344.2 L1126.0 350.7 L1130.7 357.2 L1135.5 363.7 L1140.3 370.3 L1145.0 376.8 L1149.8 383.3 L1154.6 389.8 L1159.4 396.4 L1164.2 402.9 L1169.0 409.4 L1173.8 416.0 L1178.6 422.5 L1183.4 429.0 L1188.2 435.5 L1193.0 442.1 L1197.8 448.6 L1202.6 455.1 L1207.4 461.7 L1212.2 468.2 L1216.9 474.7 L1221.7 481.2 L1226.5 487.8 L1231.3 494.3 L1236.1 500.8 L1240.9 507.3 L1245.7 513.9 L1250.5 520.4 L1255.3 526.9 L1260.1 533.5 L1264.9 540.0 L1269.7 546.5 L1274.5 553.0 L1279.3 559.6 L1284.1 566.1 L1288.9 572.6 L1293.7 579.2 L1298.5 585.7 L1303.4 592.2 L1308.2 598.7 L1313.0 605.3 L1317.8 611.8 L1322.7 618.3 L1327.5 624.9 L1332.3 631.4 L1337.2 637.9 L1342.0 644.4 L1346.9 651.0 L1351.8 657.5 L1356.6 664.0 L1361.5 670.5 L1366.4 677.1 L1371.3 683.6 L1376.1 690.1 L1381.0 696.7 L1385.9 703.2 L1390.9 709.7 L1395.8 716.2 L1400.7 722.8 L1405.6 729.3 L1410.6 735.8 L1415.5 742.4 L1420.5 748.9 L1425.4 755.4 L1430.4 761.9 L1435.4 768.5 L1440.4 775.0 L1445.4 781.5 L1450.4 788.0 L1455.4 794.6 L1460.5 801.1 L1465.5 807.6 L1470.6 814.2 L1475.6 820.7 L1480.7 827.2 L1485.8 833.7 L1490.9 840.3 L1496.0 846.8 L1501.1 853.3 L1506.2 859.9 L1511.4 866.4 L1516.5 872.9 L1521.7 879.4 L1526.9 886.0 L1532.1 892.5 L1537.3 899.0 L1542.5 905.5 L1547.7 912.1 L1553.0 918.6 L1558.3 925.1 L1563.5 931.7 L1568.9 938.2 L1574.2 944.7 L1579.5 951.2 L1584.9 957.8 L1590.3 964.3 L1595.8 970.8 L1601.2 977.4 L1606.8 983.9 L1612.3 990.4 L1617.9 996.9 L1623.5 1003.5 L1629.2 1010.0 L1634.9 1016.5 L1640.6 1023.1 L1646.4 1029.6 L1652.3 1036.1 L1658.2 1042.6 L1664.1 1049.2 L1670.1 1055.7 L1676.2 1062.2 L1682.3 1068.7 L1688.5 1075.3 L1694.8 1081.8 L1701.1 1088.3 L1707.5 1094.9 L1713.9 1101.4 L1720.4 1107.9 L1727.0 1114.4 L1733.7 1121.0 L1740.4 1127.5 L1747.2 1134.0 L1754.1 1140.6 L1761.1 1147.1 L1768.2 1153.6 L1775.3 1160.1 L1782.6 1166.7 L1789.9 1173.2 L1797.3 1179.7 L1804.8 1186.2 L1812.4 1192.8 L1820.2 1199.3 L1828.0 1205.8 L1835.9 1212.4 L1843.9 1218.9 L1852.0 1225.4 L1860.2 1231.9 L1868.5 1238.5 L1877.0 1245.0 L1885.5 1251.5 L1894.2 1258.1 L1902.9 1264.6 L1911.8 1271.1 L1920.9 1277.6 L1930.0 1284.2 L1939.3 1290.7 L1948.6 1297.2 L1958.2 1303.7 L1967.8 1310.3 L1977.6 1316.8 L1987.5 1323.3 L1997.6 1329.9 L2007.8 1336.4 L2018.1 1342.9 L2028.7 1349.4 L2039.3 1356.0 L2050.2 1362.5 L2061.2 1369.0 L2072.3 1375.6 L2083.7 1382.1 L2095.2 1388.6 L2106.9 1395.1 L2118.8 1401.7 L2130.9 1408.2 L2143.2 1414.7 L2155.7 1421.2 L2168.4 1427.8 L2181.3 1434.3 L2194.4 1440.8 L2207.8 1447.4 L2221.3 1453.9 L2235.1 1460.4 L2249.1 1466.9 L2263.3 1473.5 L2277.8 1480.0" stroke="#0070C0"/>
<path d="M1031.6 50.4 L1035.4 56.6 L1039.2 62.8 L1043.1 69.1 L1046.9 75.3 L1050.8 81.5 L1054.7 87.7 L1058.6 94.0 L1062.6 100.2 L1066.5 106.4 L1070.5 112.6 L1074.5 118.9 L1078.5 125.1 L1082.5 131.3 L1086.5 137.5 L1090.6 143.7 L1094.6 150.0 L1098.7 156.2 L1102.8 162.4 L1106.9 168.6 L1111.0 174.9 L1115.1 181.1 L1119.3 187.3 L1123.4 193.5 L1127.6 199.7 L1131.8 206.0 L1136.0 212.2 L1140.2 218.4 L1144.4 224.6 L1148.6 230.9 L1152.8 237.1 L1157.1 243.3 L1161.3 249.5 L1165.6 255.8 L1169.8 262.0 L1174.1 268.2 L1178.4 274.4 L1182.7 280.6 L1186.9 286.9 L1191.2 293.1 L1195.5 299.3 L1199.9 305.5 L1204.2 311.8 L1208.5 318.0 L1212.8 324.2 L1217.1 330.4 L1221.5 336.7 L1225.8 342.9 L1230.1 349.1 L1234.5 355.3 L1238.8 361.5 L1243.2 367.8 L1247.5 374.0 L1251.9 380.2 L1256.2 386.4 L1260.5 392.7 L1264.9 398.9 L1269.2 405.1 L1273.6 411.3 L1277.9 417.5 L1282.3 423.8 L1286.6 430.0 L1290.9 436.2 L1295.3 442.4 L1299.6 448.7 L1303.9 454.9 L1308.2 461.1 L1312.6 467.3 L1316.9 473.6 L1321.2 479.8 L1325.5 486.0 L1329.8 492.2 L1334.1 498.4 L1338.4 504.7 L1342.7 510.9 L1347.0 517.1 L1351.3 523.3 L1355.6 529.6 L1359.9 535.8 L1364.2 542.0 L1368.5 548.2 L1372.9 554.4 L1377.2 560.7 L1381.5 566.9 L1385.8 573.1 L1390.1 579.3 L1394.5 585.6 L1398.8 591.8 L1403.2 598.0 L1407.5 604.2 L1411.9 610.5 L1416.3 616.7 L1420.6 622.9 L1425.0 629.1 L1429.4 635.3 L1433.9 641.6 L1438.3 647.8 L1442.7 654.0 L1447.2 660.2 L1451.6 666.5 L1456.1 672.7 L1460.6 678.9 L1465.1 685.1 L1469.6 691.4 L1474.1 697.6 L1478.6 703.8 L1483.2 710.0 L1487.8 716.2 L1492.4 722.5 L1497.0 728.7 L1501.6 734.9 L1506.2 741.1 L1510.9 747.4 L1515.6 753.6 L1520.3 759.8 L1525.0 766.0 L1529.7 772.2 L1534.4 778.5 L1539.2 784.7 L1544.0 790.9 L1548.8 797.1 L1553.6 803.4 L1558.4 809.6 L1563.3 815.8 L1568.2 822.0 L1573.0 828.3 L1578.0 834.5 L1582.9 840.7 L1587.8 846.9 L1592.8 853.1 L1597.8 859.4 L1602.9 865.6 L1607.9 871.8 L1613.0 878.0 L1618.1 884.3 L1623.3 890.5 L1628.5 896.7 L1633.7 902.9 L1638.9 909.2 L1644.2 915.4 L1649.5 921.6 L1654.9 927.8 L1660.3 934.0 L1665.7 940.3 L1671.2 946.5 L1676.8 952.7 L1682.3 958.9 L1688.0 965.2 L1693.6 971.4 L1699.3 977.6 L1705.1 983.8 L1710.9 990.0 L1716.8 996.3 L1722.7 1002.5 L1728.7 1008.7 L1734.7 1014.9 L1740.8 1021.2 L1747.0 1027.4 L1753.2 1033.6 L1759.5 1039.8 L1765.8 1046.1 L1772.2 1052.3 L1778.7 1058.5 L1785.2 1064.7 L1791.8 1070.9 L1798.5 1077.2 L1805.2 1083.4 L1812.0 1089.6 L1818.9 1095.8 L1825.8 1102.1 L1832.8 1108.3 L1839.9 1114.5 L1847.1 1120.7 L1854.4 1126.9 L1861.7 1133.2 L1869.1 1139.4 L1876.6 1145.6 L1884.2 1151.8 L1891.9 1158.1 L1899.6 1164.3 L1907.4 1170.5 L1915.4 1176.7 L1923.4 1183.0 L1931.5 1189.2 L1939.7 1195.4 L1948.0 1201.6 L1956.3 1207.8 L1964.8 1214.1 L1973.4 1220.3 L1982.1 1226.5 L1990.9 1232.7 L1999.8 1239.0 L2008.8 1245.2 L2018.0 1251.4 L2027.2 1257.6 L2036.6 1263.9 L2046.1 1270.1 L2055.8 1276.3 L2065.5 1282.5 L2075.5 1288.7 L2085.5 1295.0 L2095.7 1301.2 L2106.1 1307.4 L2116.6 1313.6 L2127.3 1319.9 L2138.1 1326.1 L2149.1 1332.3 L2160.2 1338.5 L2171.6 1344.7 L2183.0 1351.0 L2194.7 1357.2 L2206.6 1363.4 L2218.6 1369.6 L2230.8 1375.9 L2243.2 1382.1 L2255.8 1388.3 L2268.6 1394.5 L2281.6 1400.8 L2294.8 1407.0 L2308.2 1413.2" stroke="#000C58"/>
</g>
<line x1="721.4" y1="915.4" x2="721.4" y2="1472" stroke="#D80000" stroke-width="5.6" stroke-dasharray="6.2 6.3"/>
<line x1="865.3" y1="915.0" x2="865.3" y2="1472" stroke="#FF0000" stroke-width="5.6" stroke-dasharray="6.2 6.3"/>
<line x1="930.5" y1="915.0" x2="930.5" y2="1472" stroke="#FFC000" stroke-width="5.6" stroke-dasharray="6.2 6.3"/>
<line x1="1067.8" y1="911.5" x2="1067.8" y2="1472" stroke="#66CC33" stroke-width="5.6" stroke-dasharray="6.2 6.3"/>
<line x1="1205.6" y1="916.9" x2="1208.4" y2="1472" stroke="#00B050" stroke-width="5.6" stroke-dasharray="6.2 6.3"/>
<line x1="1382.1" y1="915.0" x2="1382.1" y2="1472" stroke="#00B0F0" stroke-width="5.6" stroke-dasharray="6.2 6.3"/>
<line x1="1547.1" y1="915.0" x2="1547.1" y2="1472" stroke="#0070C0" stroke-width="5.6" stroke-dasharray="6.2 6.3"/>
<line x1="1642.6" y1="915.0" x2="1642.6" y2="1472" stroke="#000C58" stroke-width="5.6" stroke-dasharray="6.2 6.3"/>
<line x1="227.9" y1="906.9" x2="2280.6" y2="906.9" stroke="#000" stroke-width="10.2" stroke-dasharray="10.42 10.42"/>
<text x="711.3" y="1524.0" font-size="49" font-weight="bold" text-anchor="middle" fill="#D80000" textLength="83.0" lengthAdjust="spacingAndGlyphs">66.4</text>
<text x="847.9" y="1524.0" font-size="49" font-weight="bold" text-anchor="middle" fill="#FF0000" textLength="81.3" lengthAdjust="spacingAndGlyphs">67.1</text>
<text x="950.95" y="1524.0" font-size="49" font-weight="bold" text-anchor="middle" fill="#FFC000" textLength="83.3" lengthAdjust="spacingAndGlyphs">67.4</text>
<text x="1064.45" y="1526.0" font-size="49" font-weight="bold" text-anchor="middle" fill="#66CC33" textLength="80.8" lengthAdjust="spacingAndGlyphs">68.1</text>
<text x="1209.65" y="1526.4" font-size="49" font-weight="bold" text-anchor="middle" fill="#00B050" textLength="82.9" lengthAdjust="spacingAndGlyphs">68.8</text>
<text x="1405.4" y="1528.6" font-size="49" font-weight="bold" text-anchor="middle" fill="#00B0F0" textLength="83.6" lengthAdjust="spacingAndGlyphs">69.6</text>
<text x="1541.2" y="1525.6" font-size="49" font-weight="bold" text-anchor="middle" fill="#0070C0" textLength="82.8" lengthAdjust="spacingAndGlyphs">70.4</text>
<text x="1655.75" y="1525.6" font-size="49" font-weight="bold" text-anchor="middle" fill="#000C58" textLength="82.3" lengthAdjust="spacingAndGlyphs">70.8</text>
<line x1="1712" y1="139.0" x2="1795" y2="139.0" stroke="#D80000" stroke-width="6.5" stroke-linecap="round"/>
<text x="1801.6" y="155.4" font-size="54" font-weight="bold" fill="#000" textLength="301.6" lengthAdjust="spacingAndGlyphs">Neat bitumen</text>
<line x1="1712" y1="229.6" x2="1795" y2="229.6" stroke="#FF0000" stroke-width="6.5" stroke-linecap="round"/>
<text x="1801.9" y="244.6" font-size="54" font-weight="bold" fill="#000" textLength="277.1" lengthAdjust="spacingAndGlyphs">Acid-UT-7D</text>
<line x1="1712" y1="320.2" x2="1795" y2="320.2" stroke="#FFC000" stroke-width="6.5" stroke-linecap="round"/>
<text x="1801.9" y="336.2" font-size="54" font-weight="bold" fill="#000" textLength="301.8" lengthAdjust="spacingAndGlyphs">Acid-UT-28D</text>
<line x1="1712" y1="410.8" x2="1795" y2="410.8" stroke="#66CC33" stroke-width="6.5" stroke-linecap="round"/>
<text x="1801.9" y="425.8" font-size="54" font-weight="bold" fill="#000" textLength="301.8" lengthAdjust="spacingAndGlyphs">Acid-UT-90D</text>
<line x1="1712" y1="501.4" x2="1795" y2="501.4" stroke="#00B050" stroke-width="6.5" stroke-linecap="round"/>
<text x="1803.2" y="517.4" font-size="54" font-weight="bold" fill="#000" textLength="456.6" lengthAdjust="spacingAndGlyphs">TFOT aged bitumen</text>
<line x1="1712" y1="592.0" x2="1795" y2="592.0" stroke="#00B0F0" stroke-width="6.5" stroke-linecap="round"/>
<text x="1801.9" y="607.8" font-size="54" font-weight="bold" fill="#000" textLength="276.7" lengthAdjust="spacingAndGlyphs">Acid-AT-7D</text>
<line x1="1712" y1="682.6" x2="1795" y2="682.6" stroke="#0070C0" stroke-width="6.5" stroke-linecap="round"/>
<text x="1801.9" y="698.7" font-size="54" font-weight="bold" fill="#000" textLength="301.8" lengthAdjust="spacingAndGlyphs">Acid-AT-28D</text>
<line x1="1712" y1="773.2" x2="1795" y2="773.2" stroke="#000C58" stroke-width="6.5" stroke-linecap="round"/>
<text x="1801.9" y="788.8" font-size="54" font-weight="bold" fill="#000" textLength="301.8" lengthAdjust="spacingAndGlyphs">Acid-AT-90D</text>
<text x="1027" y="1615.5" font-size="61.5" font-weight="bold" fill="#000" textLength="326" lengthAdjust="spacingAndGlyphs">Temperature</text>
<text x="1380.5" y="1621.5" font-size="66" font-weight="bold" fill="#000">[</text>
<text x="1400.0" y="1615.5" font-size="61.5" font-weight="bold" fill="#000" textLength="65.5" lengthAdjust="spacingAndGlyphs">°C</text>
<text x="1464.0" y="1621.5" font-size="66" font-weight="bold" fill="#000">]</text>
<text transform="translate(91.7,769.7) rotate(-90)" x="0" y="0" font-size="60" font-weight="bold" text-anchor="middle" fill="#000" textLength="522.7" lengthAdjust="spacingAndGlyphs">Rutting factor [kPa]</text>
</g></svg></body></html>
